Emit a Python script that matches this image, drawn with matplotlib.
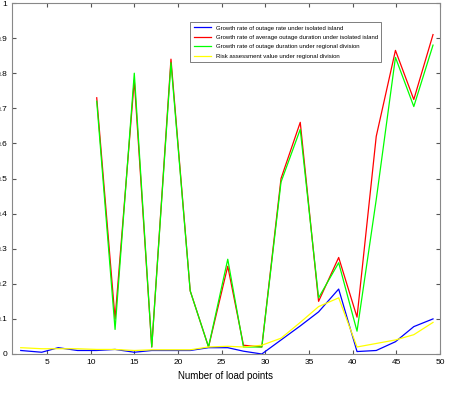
import numpy as np
import matplotlib
matplotlib.use("Agg")
import matplotlib.pyplot as plt

plt.rcParams["font.family"] = ["Liberation Sans", "DejaVu Sans"]

x = [2, 4.4, 6.3, 8.5, 10.7, 12.8, 15, 17, 19.2, 21.4, 23.5, 25.7, 27.5, 29.6,
     31.8, 34, 36.1, 38.4, 40.5, 42.7, 44.9, 47, 49.2]
outage_rate = [0.01, 0.005, 0.018, 0.01, 0.01, 0.013, 0.005, 0.01, 0.01, 0.01, 0.018, 0.018,
               0.008, 0.0, 0.04, 0.08, 0.12, 0.185, 0.007, 0.01, 0.035, 0.078, 0.1]
nan = np.nan
avg_duration = [nan, nan, nan, nan, 0.73, 0.10, 0.78, 0.02, 0.84, 0.18, 0.02, 0.25,
                0.025, 0.02, 0.50, 0.66, 0.15, 0.275, 0.105, 0.62, 0.865, 0.725, 0.91]
region_duration = [nan, nan, nan, nan, 0.72, 0.07, 0.80, 0.02, 0.83, 0.18, 0.02, 0.27,
                   0.02, 0.02, 0.49, 0.64, 0.16, 0.26, 0.065, 0.44, 0.845, 0.705, 0.88]
risk_value = [0.018, 0.015, 0.015, 0.015, 0.013, 0.013, 0.01, 0.012, 0.012, 0.012, 0.02, 0.022,
              0.02, 0.025, 0.045, 0.09, 0.135, 0.16, 0.02, 0.03, 0.04, 0.055, 0.09]

fig = plt.figure(figsize=(4.74, 4.16), dpi=100)
ax = fig.add_axes([12 / 474, 62 / 416, 428 / 474, 351 / 416])
ax.plot(x, outage_rate, color="#0000ff", lw=0.9, label="Growth rate of outage rate under isolated island")
ax.plot(x, avg_duration, color="#ff0000", lw=0.9, label="Growth rate of average outage duration under isolated island")
ax.plot(x, region_duration, color="#00ff00", lw=0.9, label="Growth rate of outage duration under regional division")
ax.plot(x, risk_value, color="#ffff00", lw=0.9, label="Risk assessment value under regional division")

ax.set_xlim(1, 50)
ax.set_ylim(0, 1)
ax.set_xticks(range(5, 51, 5))
ax.set_yticks(np.arange(0, 1.01, 0.1))
ax.set_yticklabels(["0"] + [f"{v:.1f}" for v in np.arange(0.1, 1.0, 0.1)] + ["1"])
ax.tick_params(direction="in", top=True, right=True, labelsize=6, length=3, color="#555555")
for s in ax.spines.values():
    s.set_color("#888888")
ax.set_xlabel("Number of load points", fontsize=7)
leg = ax.legend(loc="upper left", bbox_to_anchor=(0.41, 0.955), fontsize=4.3, frameon=True,
                fancybox=False, edgecolor="#444444", handlelength=2.8, labelspacing=0.7,
                borderpad=0.6)
leg.get_frame().set_linewidth(0.6)
plt.savefig("out.png", dpi=100)
